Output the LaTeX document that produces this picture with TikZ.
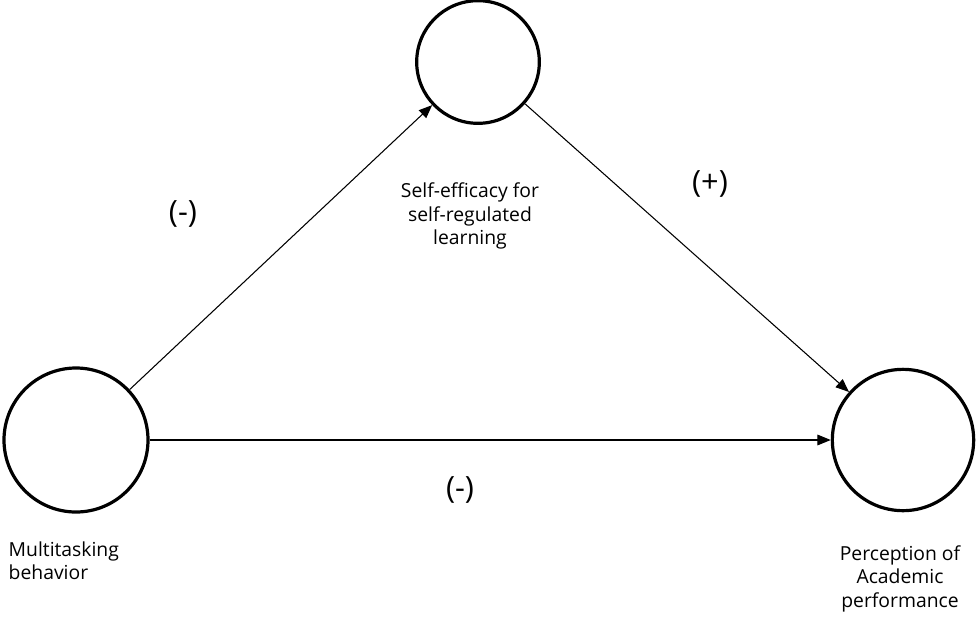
\documentclass[tikz,border=0pt]{standalone}
\usepackage{fontspec}
\setmainfont{Open Sans}
\usetikzlibrary{arrows.meta}
\begin{document}
\begin{tikzpicture}[x=0.75pt,y=-0.75pt,
  latent/.style={circle,draw,line width=2.4pt,inner sep=0pt},
  path/.style={-{Triangle[length=10pt,width=8pt]},line width=0.8pt},
  lab/.style={font=\fontsize{14.5}{17.5}\selectfont,align=center},
  sign/.style={font=\fontsize{23}{26}\selectfont}]
\useasboundingbox (0,0) rectangle (980,636);
\node[latent,minimum size=108pt] (m) at (76,440) {};
\node[latent,minimum size=92pt] (s) at (478,62) {};
\node[latent,minimum size=106pt] (p) at (903,440) {};
\draw[path] (m) -- (s);
\draw[path] (s) -- (p);
\draw[path] (m.east) -- (p.west);
\node[sign] (n1) at (183,214) {(-)};
\node[sign] (n2) at (710,184) {(+)};
\node[sign] (n3) at (460,490) {(-)};
\node[lab] (ts) at (470,216) {Self-efficacy for\\self-regulated\\learning};
\node[lab,align=left,anchor=north west] (tm) at (4,537) {Multitasking\\behavior};
\node[lab,anchor=north] (tp) at (900,541) {Perception of\\Academic\\performance};
\end{tikzpicture}
\end{document}
